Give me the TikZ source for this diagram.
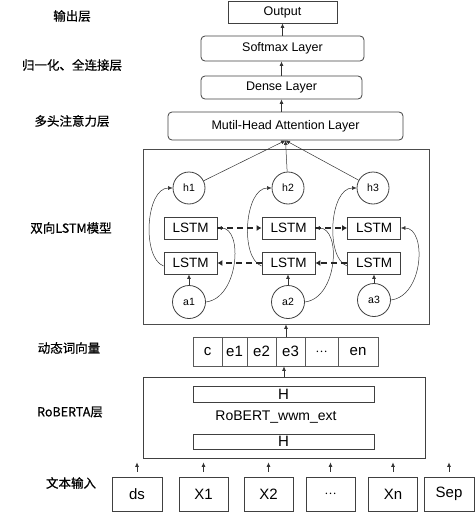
\documentclass[tikz,border=0pt]{standalone}
\usepackage{fontspec}
\setmainfont{Liberation Sans}
\newfontfamily\cjk{Noto Sans CJK SC}
\newfontfamily\cjkbold[FakeBold=0.6]{Noto Sans CJK SC}
\usetikzlibrary{arrows.meta}

\tikzset{
	layer/.style={draw=black!75, rounded corners=4pt, inner sep=0pt, font=\fontsize{12.5}{14}\selectfont},
	lstm/.style={draw=black!75, minimum width=53pt, minimum height=22pt, inner sep=0pt, font=\fontsize{13.5}{15}\selectfont},
	state/.style={draw=black!75, circle, minimum size=32pt, inner sep=0pt, font=\fontsize{10.5}{12}\selectfont},
	cell/.style={draw=black!65, minimum height=29pt, inner sep=0pt, font=\fontsize{15}{17}\selectfont},
	token/.style={draw=black!75, minimum width=49pt, minimum height=34pt, inner sep=0pt, font=\fontsize{15}{17}\selectfont},
	side/.style={font=\cjkbold\fontsize{12.5}{14}\selectfont},
	arr/.style={-{Latex[length=4.5pt,width=4pt]}, draw=black!80, line width=0.7pt},
	link/.style={arr, line width=0.5pt},
	rnn/.style={-{Latex[length=5pt,width=6pt]}, draw=black!85, line width=1.6pt, dash pattern=on 6pt off 4pt},
}

\begin{document}
\begin{tikzpicture}[x=1pt, y=-1pt, line width=0.8pt]
			%%%%% START %%%%%
			\useasboundingbox (0,0) rectangle (474,514);
			
			% labels on the left
			\node[side] (lout) at (72,16) {输出层};
			\node[side] (lsoft) at (72,65) {归一化、全连接层};
			\node[side] (latt) at (72,121) {多头注意力层};
			\node[side] (llstm) at (71,228) {双向LSTM模型};
			\node[side] (lemb) at (69,348) {动态词向量};
			\node[side] (lrob) at (70,412) {RoBERTA层};
			\node[side] (lin) at (71,483) {文本输入};
			
			% top layers
			\node[layer, rounded corners=0pt, minimum width=109pt, minimum height=22pt] (out) at (282.5,12) {Output};
			\node[layer, minimum width=163pt, minimum height=25pt] (soft) at (282.5,48.5) {Softmax Layer};
			\node[layer, minimum width=161pt, minimum height=23pt] (dense) at (281.5,87.5) {Dense Layer};
			\node[layer, minimum width=235pt, minimum height=28pt] (attn) at (285.5,126) {Mutil-Head Attention Layer};
			
			\draw[arr] (dense.north) -- (dense.north |- soft.south);
			\draw[arr] (soft.north) -- (soft.north |- out.south);
			\draw[arr] (dense.south |- attn.north) -- (dense.south);
			
			% BiLSTM
			\node[draw=black!70, minimum width=286pt, minimum height=175pt] (bilstm) at (286,236.5) {};
			
			\node[state] (h1) at (189,188) {h1};
			\node[state] (h2) at (288,188) {h2};
			\node[state] (h3) at (373,188) {h3};
			
			\node[lstm] (up1) at (190.5,228) {LSTM};
			\node[lstm] (up2) at (288.5,228) {LSTM};
			\node[lstm] (up3) at (374,228) {LSTM};
			
			\node[lstm] (lo1) at (190.5,263) {LSTM};
			\node[lstm] (lo2) at (288.5,263) {LSTM};
			\node[lstm] (lo3) at (374,263) {LSTM};
			
			\node[state, minimum size=33pt] (a1) at (189,302) {a1};
			\node[state, minimum size=33pt] (a2) at (288,302) {a2};
			\node[state, minimum size=33pt] (a3) at (374,300) {a3};
			
			\foreach \i in {1,2,3} {
				\draw[link] (h\i) -- (attn.south);
				\draw[arr] (a\i.north) -- (a\i.north |- lo\i.south);
				\draw[link] ([yshift=-3pt]lo\i.west) .. controls +(-22,-8) and +(-27,0) .. (h\i.west);
				\draw[link] (a\i.east) .. controls +(33,-4) and +(26,0) .. (up\i.east);
			}
			
			\draw[rnn] (up1) -- (up2);
			\draw[rnn] (up2) -- (up3);
			\draw[rnn] (lo3) -- (lo2);
			\draw[rnn] (lo2) -- (lo1);
			
			% word vectors
			\node[cell, minimum width=29pt] (ec) at (207.5,351.5) {c};
			\node[cell, minimum width=25pt] (e1) at (234.5,351.5) {e1};
			\node[cell, minimum width=29pt] (e2) at (261.5,351.5) {e2};
			\node[cell, minimum width=29pt] (e3) at (290.5,351.5) {e3};
			\node[cell, minimum width=33pt] (edots) at (321.5,351.5) {\cjk\fontsize{11}{13}\selectfont ⋯};
			\node[cell, minimum width=40pt] (en) at (358,351.5) {en};
			
			\draw[arr] (bilstm.south |- e3.north) -- (bilstm.south);
			
			% RoBERTa
			\node[draw=black!75, minimum width=282pt, minimum height=81pt] (rob) at (284,417.5) {};
			\node[draw=black!75, minimum width=181pt, minimum height=16pt, inner sep=0pt, font=\fontsize{15}{17}\selectfont] (hup) at (283.5,394) {H};
			\node[font=\fontsize{14}{16}\selectfont] (robname) at (276,417) {RoBERT\_wwm\_ext};
			\node[draw=black!75, minimum width=181pt, minimum height=15pt, inner sep=0pt, font=\fontsize{15}{17}\selectfont] (hdown) at (283.5,441.5) {H};
			
			\draw[arr] (rob.north) -- (rob.north |- e3.south);
			
			% input tokens
			\node[token, minimum width=50pt] (ds) at (137,494) {ds};
			\node[token] (x1) at (203.5,494) {X1};
			\node[token] (x2) at (268.5,494) {X2};
			\node[token] (xdots) at (330.5,494) {\cjk\fontsize{11}{13}\selectfont ⋯};
			\node[token] (xn) at (393,494) {Xn};
			\node[token, minimum width=50pt] (sep) at (449,494) {Sep};
			
			\foreach \t in {ds,x1,x2,xdots,xn,sep}
				\draw[arr, shorten <=5pt, shorten >=4pt] (\t.north) -- (\t.north |- rob.south);
			
			%%%%% END %%%%%
\end{tikzpicture}
\end{document}
